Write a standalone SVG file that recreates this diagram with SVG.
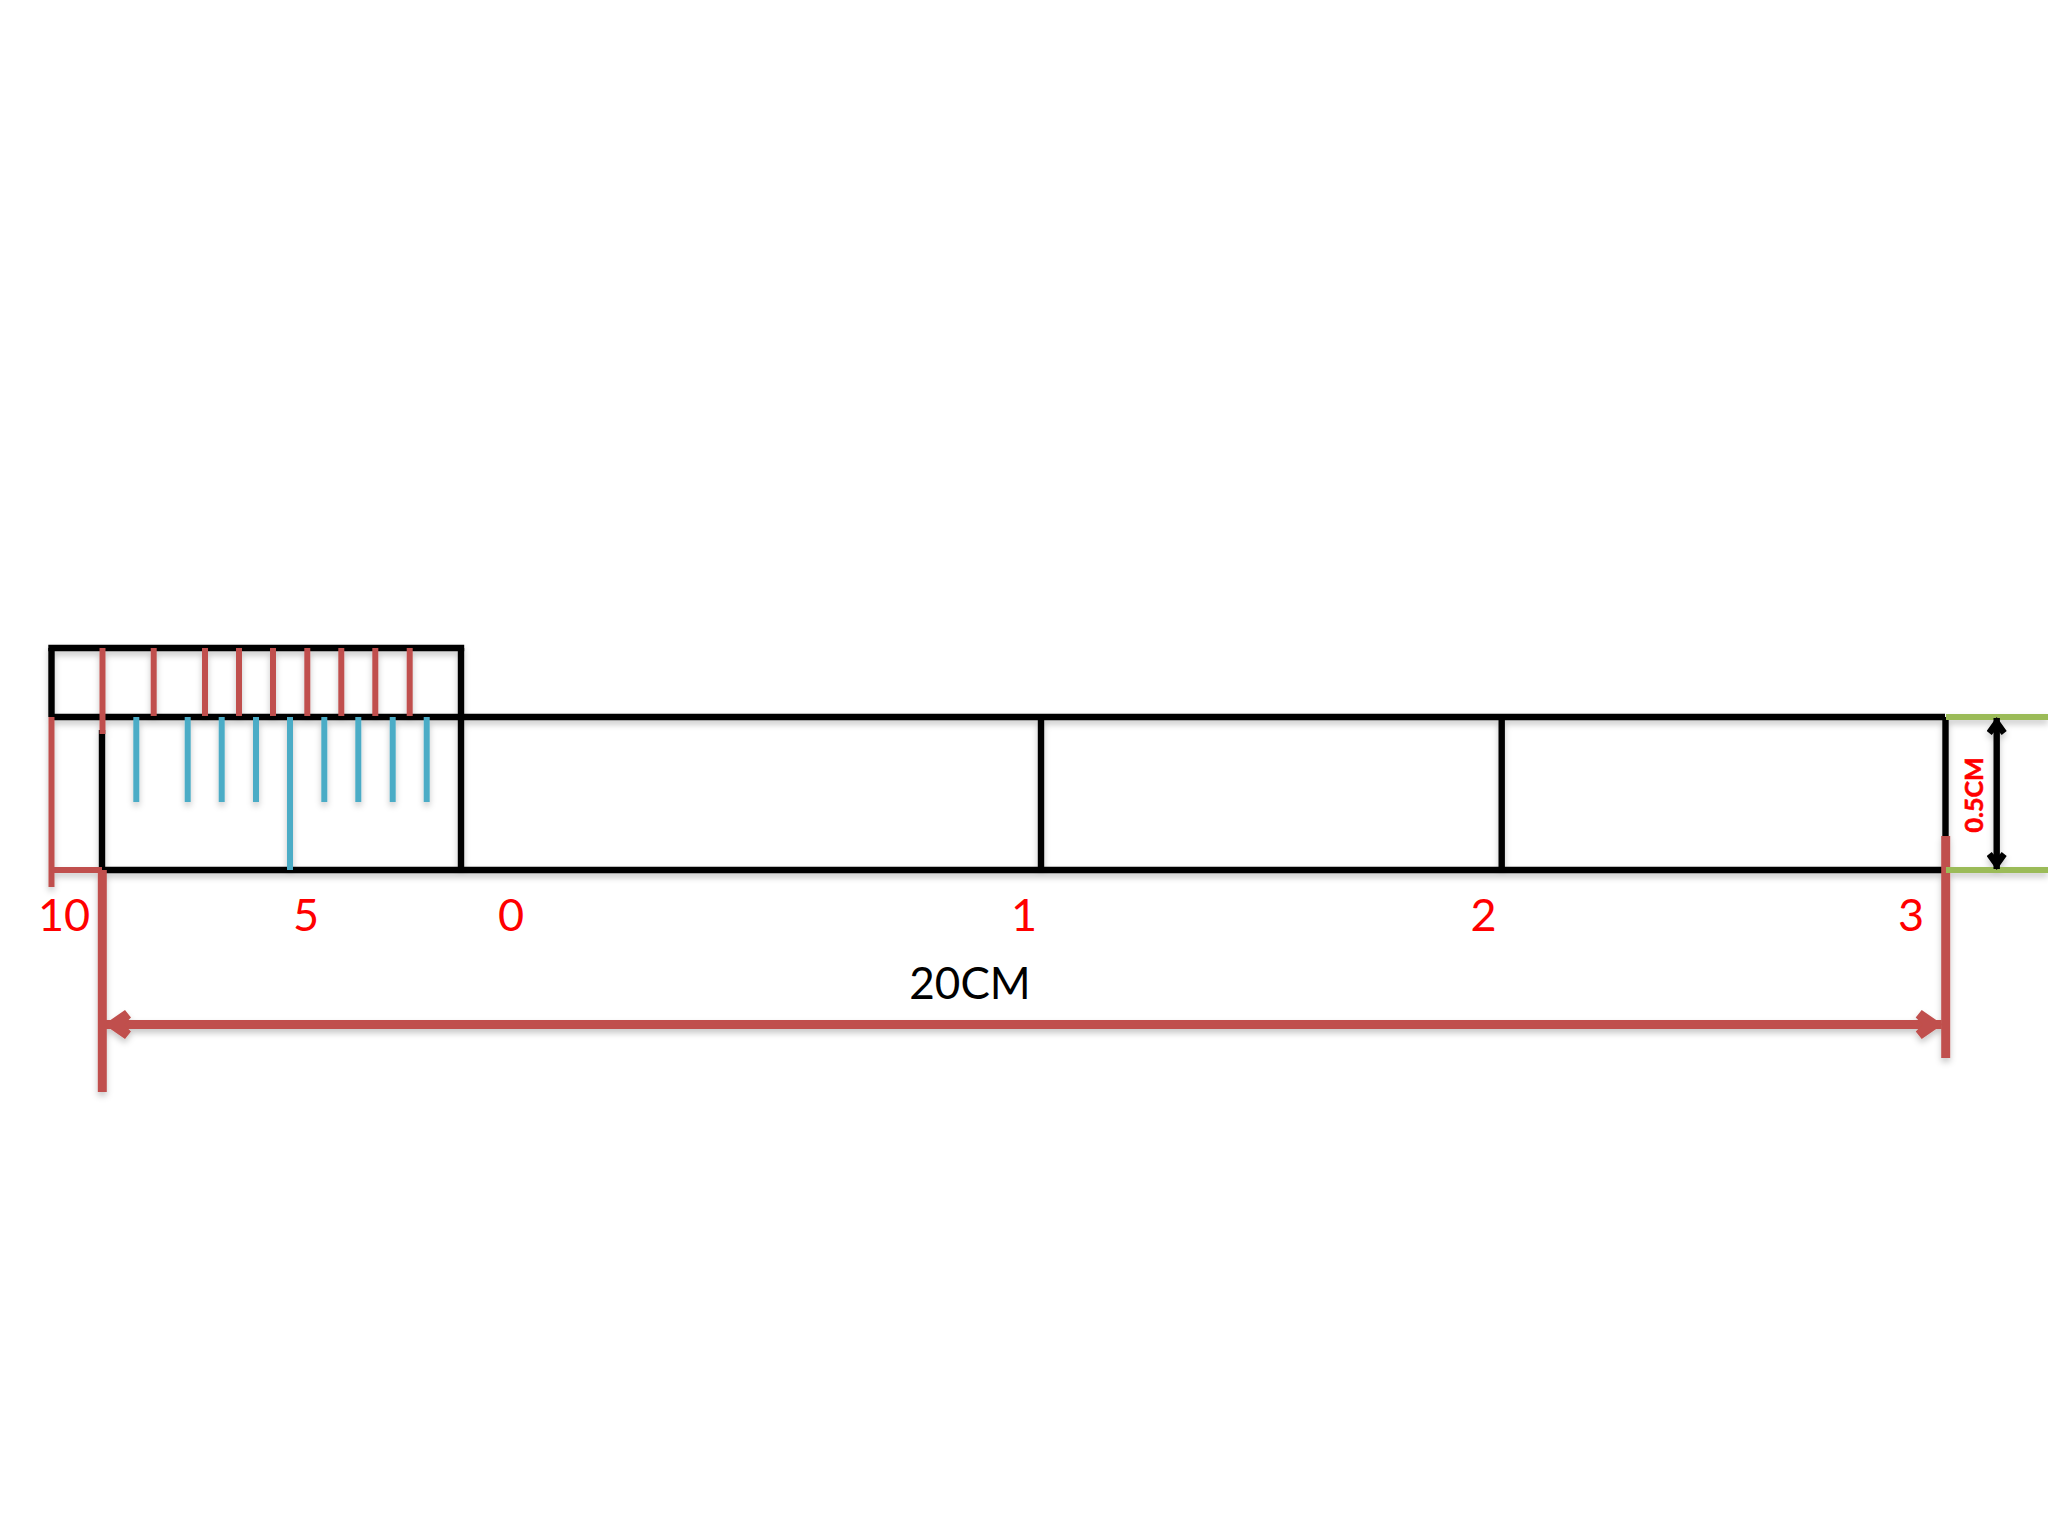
<svg xmlns="http://www.w3.org/2000/svg" width="2048" height="1536" viewBox="0 0 2048 1536">
<defs>
<filter id="sh" x="-5%" y="-5%" width="110%" height="110%" filterUnits="objectBoundingBox" primitiveUnits="userSpaceOnUse"><feDropShadow dx="0" dy="4" stdDeviation="3" flood-color="#000" flood-opacity="0.22"/></filter>
<marker id="redhead" viewBox="0 0 30 30" refX="29" refY="15" markerWidth="30" markerHeight="30" markerUnits="userSpaceOnUse" orient="auto-start-reverse"><path d="M30 15 L9 0.5 L3 8 L10 15 L3 22 L9 29.5 Z" fill="#c0504d"/></marker>
<marker id="blackhead" viewBox="0 0 20 20" refX="19" refY="10" markerWidth="20" markerHeight="20" markerUnits="userSpaceOnUse" orient="auto-start-reverse"><path d="M20 10 L6 0 L2 5 L8 10 L2 15 L6 20 Z" fill="#000"/></marker>
</defs>
<style>
line{fill:none}
.b{stroke:#000;stroke-width:6.4}
.r{stroke:#c0504d;stroke-width:6}
.rt{stroke:#c0504d;stroke-width:9}
.c{stroke:#4bacc6;stroke-width:6}
.g{stroke:#9bbb59;stroke-width:6}
text{font-family:"Lato","Liberation Sans",sans-serif;font-size:45px;fill:#f00;text-anchor:middle}
</style>
<rect width="2048" height="1536" fill="#fff"/>
<g id="connectors" filter="url(#sh)">
<line class="b" x1="51.5" y1="648" x2="461" y2="648" stroke-linecap="square"/>
<line class="b" x1="51.5" y1="648" x2="51.5" y2="717"/>
<line class="b" x1="461" y1="648" x2="461" y2="870"/>
<line class="b" x1="51.5" y1="717" x2="1945" y2="717"/>
<line class="b" x1="102" y1="730" x2="102" y2="870"/>
<line class="b" x1="102" y1="870" x2="1945" y2="870"/>
<line class="b" x1="1041" y1="717" x2="1041" y2="870"/>
<line class="b" x1="1501.7" y1="717" x2="1501.7" y2="870"/>
<line class="b" x1="1945.5" y1="717" x2="1945.5" y2="840"/>
<line class="r" x1="102.5" y1="648" x2="102.5" y2="734"/>
<line class="r" x1="153.7" y1="648" x2="153.7" y2="716"/>
<line class="r" x1="205" y1="648" x2="205" y2="716"/>
<line class="r" x1="239" y1="648" x2="239" y2="716"/>
<line class="r" x1="273" y1="648" x2="273" y2="716"/>
<line class="r" x1="307.3" y1="648" x2="307.3" y2="716"/>
<line class="r" x1="341.3" y1="648" x2="341.3" y2="716"/>
<line class="r" x1="375.3" y1="648" x2="375.3" y2="716"/>
<line class="r" x1="409.7" y1="648" x2="409.7" y2="716"/>
<line class="c" x1="136.3" y1="717" x2="136.3" y2="802"/>
<line class="c" x1="187.7" y1="717" x2="187.7" y2="802"/>
<line class="c" x1="221.7" y1="717" x2="221.7" y2="802"/>
<line class="c" x1="256" y1="717" x2="256" y2="802"/>
<line class="c" x1="290" y1="717" x2="290" y2="870"/>
<line class="c" x1="324.3" y1="717" x2="324.3" y2="802"/>
<line class="c" x1="358.3" y1="717" x2="358.3" y2="802"/>
<line class="c" x1="392.7" y1="717" x2="392.7" y2="802"/>
<line class="c" x1="426.7" y1="717" x2="426.7" y2="802"/>
<line class="r" x1="51.5" y1="717" x2="51.5" y2="887"/>
<line class="r" x1="51.5" y1="870" x2="102" y2="870"/>
<line class="rt" x1="102.3" y1="870" x2="102.3" y2="1092"/>
<line class="rt" x1="1945.7" y1="836" x2="1945.7" y2="1058"/>
<line class="g" x1="1946" y1="717" x2="2048" y2="717"/>
<line class="g" x1="1946" y1="870" x2="2048" y2="870"/>
<line class="b" x1="1996.7" y1="718" x2="1996.7" y2="869" marker-start="url(#blackhead)" marker-end="url(#blackhead)"/>
<line class="rt" x1="105" y1="1024.5" x2="1941.7" y2="1024.5" marker-start="url(#redhead)" marker-end="url(#redhead)"/>
</g>
<g id="labels">
<text x="64" y="931">10</text>
<text x="306" y="931">5</text>
<text x="511" y="931">0</text>
<text x="1024" y="931">1</text>
<text x="1483.5" y="931">2</text>
<text x="1911" y="931">3</text>
<text x="970" y="999" style="fill:#000;font-size:44px">20CM</text>
<text transform="translate(1983 795) rotate(-90)" style="font-size:25px;font-weight:700;stroke:#f00;stroke-width:.6">0.5CM</text>
</g>
</svg>
